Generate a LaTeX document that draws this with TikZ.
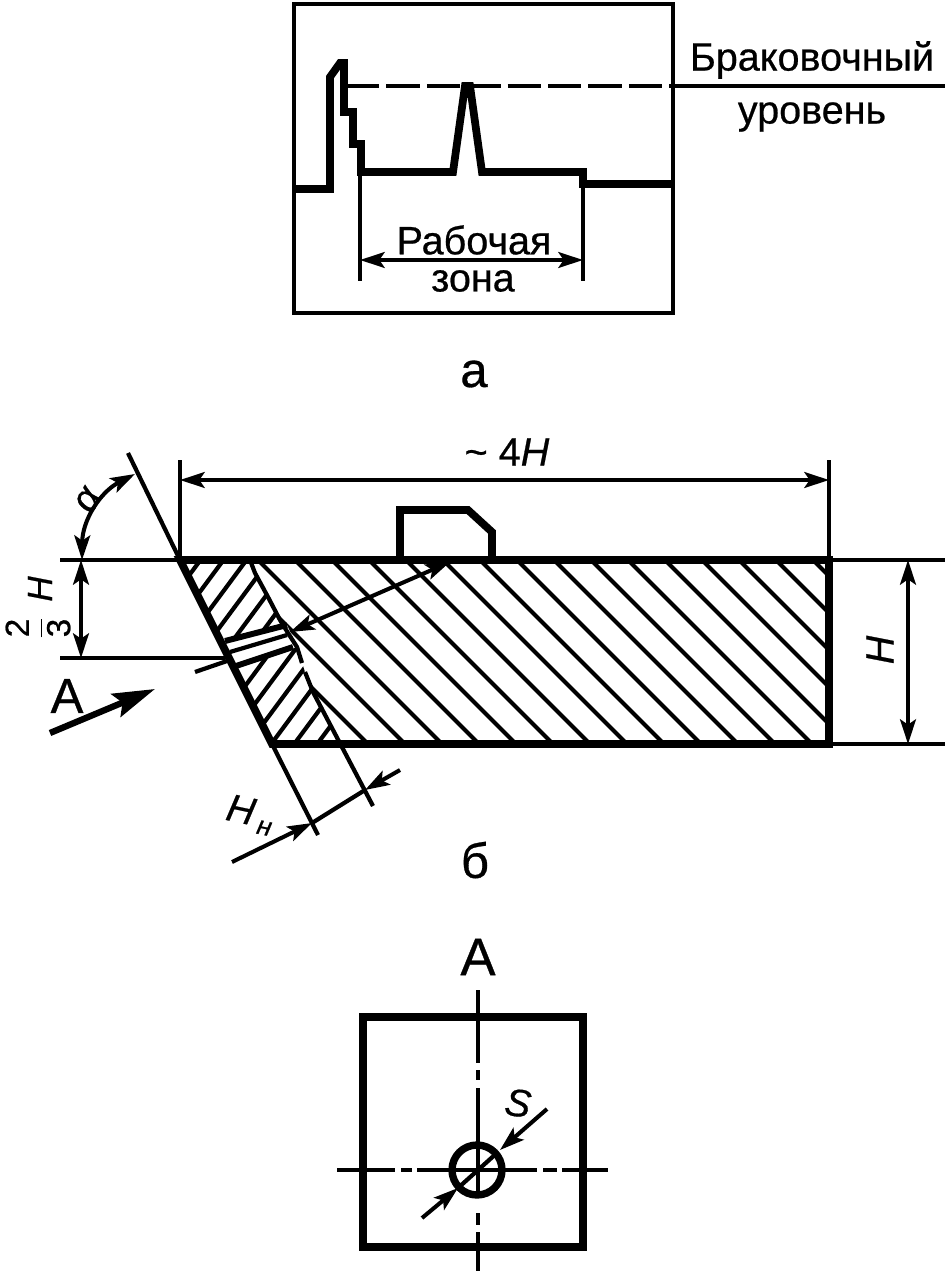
\documentclass[tikz,border=0pt]{standalone}
\usepackage{fontspec}
\setmainfont{Liberation Sans}[RawFeature={embolden=0.6}]
\usetikzlibrary{arrows.meta}
\tikzset{
    thinline/.style={line width=2.4pt},
    thickline/.style={line width=4.4pt,line join=miter},
    dimline/.style={line width=2.3pt,{Stealth[length=14pt,width=9pt,inset=3pt]}-{Stealth[length=14pt,width=9pt,inset=3pt]}},
    dimend/.style={line width=2.3pt,-{Stealth[length=14pt,width=9pt,inset=3pt]}},
    lbl/.style={font=\fontsize{22.5}{26}\selectfont,inner sep=0pt}
}
\begin{document}
\begin{tikzpicture}[x=0.02cm,y=-0.02cm]
    \useasboundingbox (0,0) rectangle (945,1271);
    % screen a
    \draw[line width=2.4pt] (294,4) rectangle (673,313);
    \draw[thickline] (294,189) -- (330,189) -- (330,77) -- (340,63) -- (344,63) -- (344,112) -- (353,112) -- (353,144) -- (361,144) -- (361,172) -- (453,172) -- (465,86) -- (470,86) -- (482,172) -- (583,172) -- (583,184) -- (673,184);
    \draw[thinline,dash pattern=on 19pt off 4pt] (346,86) -- (673,86);
    \draw[thinline] (673,86) -- (945,86);
    \draw[thinline] (360,172) -- (360,281);
    \draw[thinline] (583,184) -- (583,281);
    \draw[dimline] (360,260) -- (583,260);
    \node[lbl] (rabochaya) at (474,240) {Рабочая};
    \node[lbl] (zona) at (473,281) {зона};
    \node[lbl] (brak) at (812,60) {Браковочный};
    \node[lbl] (uroven) at (812,117) {уровень};
    \node[lbl,font=\fontsize{28}{30}\selectfont] (capa) at (474,374) {а};
    % section b
    \begin{scope}
        \clip (180,562) -- (250,562) -- (255,573) -- (268,597) -- (280,620) -- (288,633) -- (297,647) -- (302,663) -- (305,672) -- (313,692) -- (323,707) -- (333,730) -- (337,744) -- (272,744) -- cycle;
        \foreach \xa in {199,222,...,452}
            \draw[thinline] (\xa,562) -- (\xa-137,747);
    \end{scope}
    \begin{scope}
        \clip (258,562) -- (268,597) -- (280,620) -- (288,633) -- (297,647) -- (302,663) -- (305,672) -- (313,692) -- (323,707) -- (333,730) -- (337,744) -- (828,744) -- (828,562) -- cycle;
        \foreach \xa in {186,223,...,815}
            \draw[thinline] (\xa,562) -- (\xa+182,744);
    \end{scope}
    \fill[white] (225,641) -- (287,625) -- (297,647) -- (233,667) -- cycle; % notch
    \draw[thickline,line width=3.4pt] (225,641) -- (287,625);
    \draw[thinline] (230,652) -- (287,635);
    \draw[thickline,line width=3.4pt] (233,667) -- (293,647);
    \draw[thinline] (250,560) -- (255,573) -- (268,597) -- (280,620) -- (288,633) -- (297,647) -- (302,663);
    \draw[thinline] (305,672) -- (313,692) -- (333,730) -- (373,806);
    \draw[thickline] (272,744) -- (180,560) -- (829,560) -- (829,744) -- cycle;
    \draw[thinline] (128,453) -- (180,560);
    \draw[thinline] (272,744) -- (318,835);
    \draw[thickline] (400,558) -- (400,510) -- (468,510) -- (492,532) -- (492,558); % weld
    \draw[thinline] (60,560) -- (180,560);
    \draw[thinline] (60,658) -- (225,658);
    \draw[thinline] (195,672) -- (227,661);
    \draw[thinline] (829,560) -- (945,560);
    \draw[thinline] (829,744) -- (945,744);
    \draw[thinline] (180,460) -- (180,560);
    \draw[thinline] (829,460) -- (829,560);
    \draw[dimline] (180,480) -- (829,480);
    \draw[dimline] (908,560) -- (908,744);
    \draw[dimline] (81,560) -- (81,658);
    \draw[dimline] (450,562) -- (290,632);
    \draw[dimline] (135,474) to[bend right=31] (82,560);
    \draw[dimend] (232,862) -- (312,823);
    \draw[dimend] (400,770) -- (365,790);
    \draw[thinline] (312,823) -- (365,790);
    \draw[line width=3.6pt,-{Stealth[length=24pt,width=14pt,inset=4pt]}] (50,733) -- (155,689);
    \node[lbl,font=\fontsize{28}{30}\selectfont] (capA) at (67,696) {А};
    \node[lbl] (width) at (507,452) {\textasciitilde{} 4\textit{H}};
    \node[lbl,rotate=90,font=\fontsize{22.5}{26}\itshape\selectfont] (hright) at (880,650) {H};
    \node[lbl,rotate=90,font=\fontsize{20}{24}\itshape\selectfont] (hleft) at (40,589) {H};
    \node[lbl,rotate=90,font=\fontsize{19}{22}\selectfont] (twothirds) at (38,628) {$\displaystyle\frac{\mbox{2}}{\mbox{3}}$};
    \node[lbl,rotate=60,font=\fontsize{22}{26}\itshape\selectfont] (alpha) at (88,500) {α};
    \node[lbl,rotate=-12,font=\fontsize{22}{26}\itshape\selectfont] (hn) at (250,815) {H\kern3pt\raisebox{-4pt}{\fontsize{15}{18}\selectfont н}};
    \node[lbl,font=\fontsize{28}{30}\selectfont] (capb) at (475,860) {б};
    % view A
    \node[lbl,font=\fontsize{30}{32}\selectfont] (capAtop) at (478,957) {А};
    \draw[thickline] (363,1017) rectangle (583,1247);
    \draw[thinline] (478,990) -- (478,1063);
    \draw[thinline] (478,1070) -- (478,1080);
    \draw[thinline] (478,1088) -- (478,1197);
    \draw[thinline] (478,1213) -- (478,1225);
    \draw[thinline] (478,1232) -- (478,1271);
    \draw[thinline] (337,1170) -- (395,1170);
    \draw[thinline] (401,1170) -- (412,1170);
    \draw[thinline] (417,1170) -- (537,1170);
    \draw[thinline] (543,1170) -- (557,1170);
    \draw[thinline] (562,1170) -- (608,1170);
    \draw[line width=4.2pt] (477,1170) circle (25);
    \draw[dimend] (547,1109) -- (500,1150);
    \draw[dimend] (422,1218) -- (458,1188);
    \draw[thinline] (458,1188) -- (498,1152);
    \node[lbl,rotate=-8,font=\fontsize{22}{26}\itshape\selectfont] (s) at (518,1103) {S};
\end{tikzpicture}
\end{document}
